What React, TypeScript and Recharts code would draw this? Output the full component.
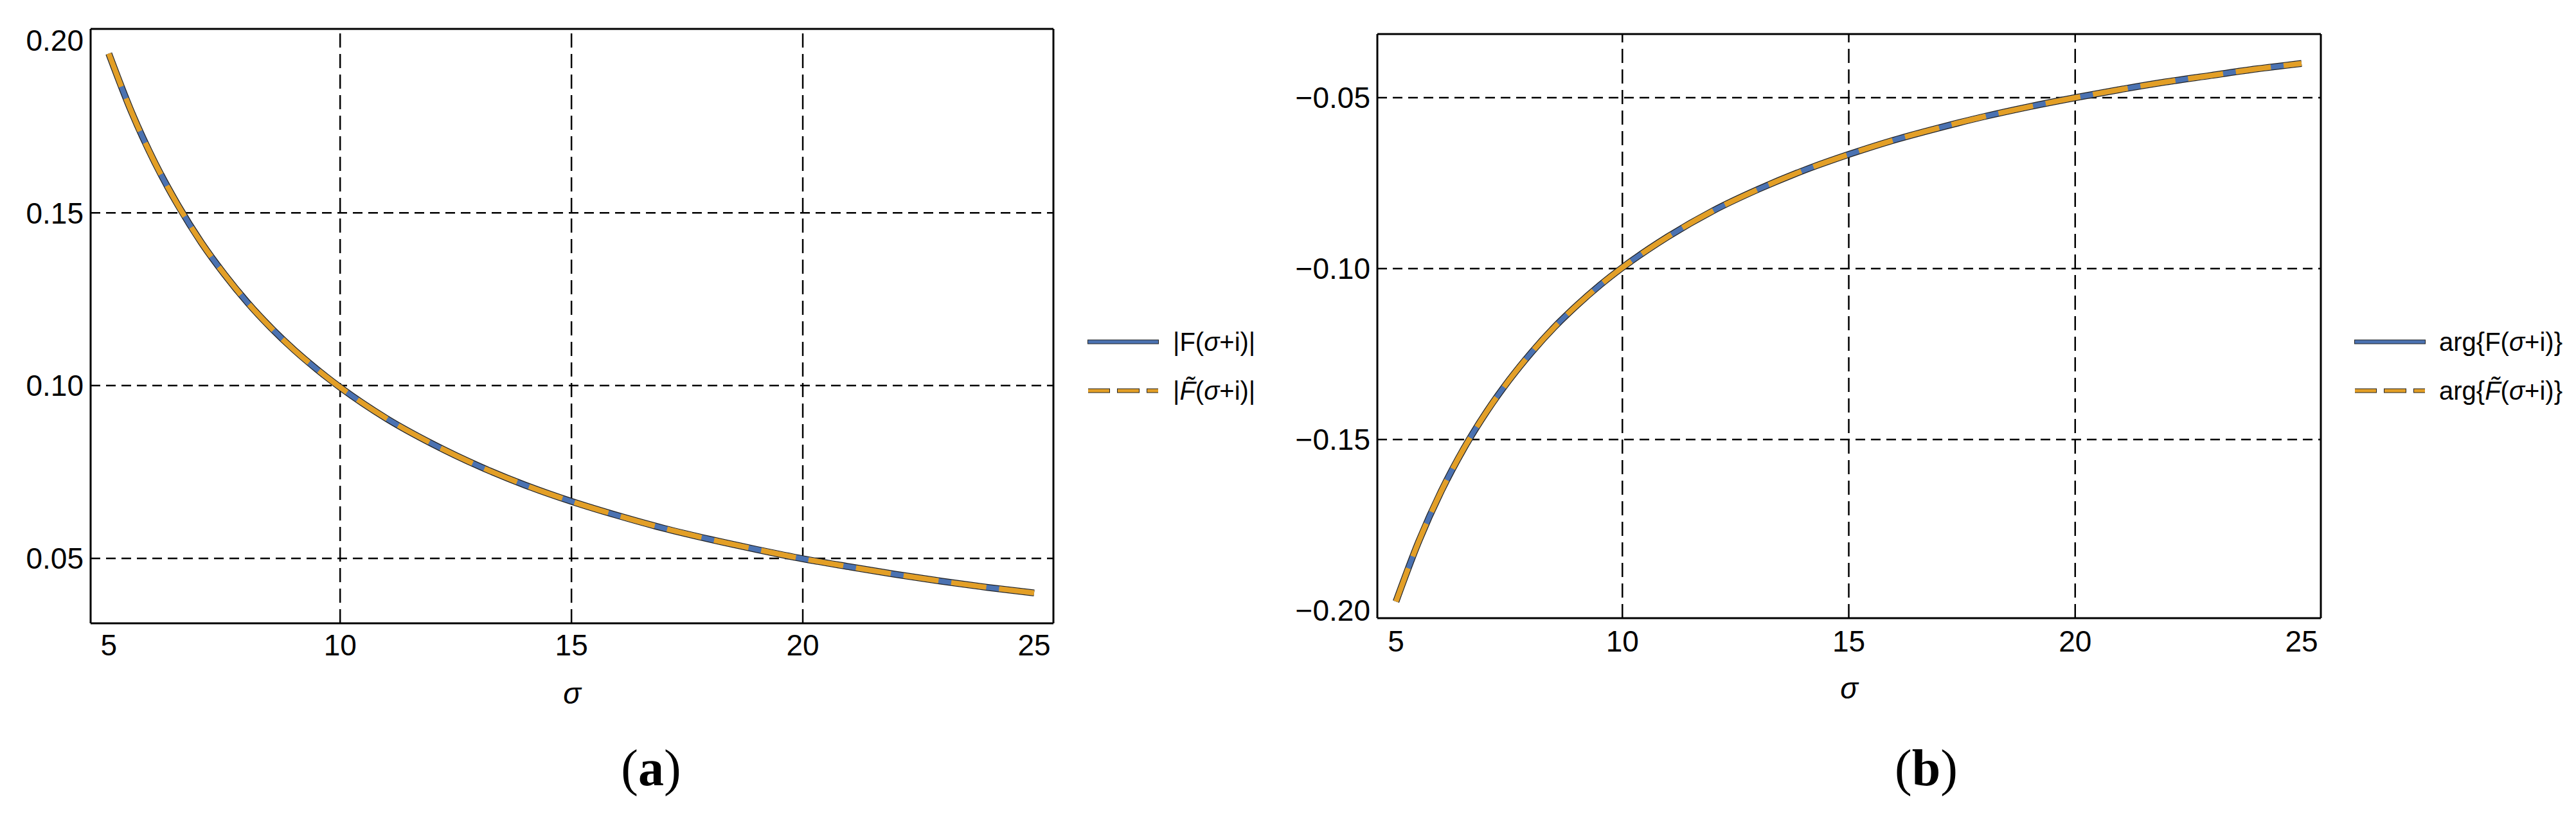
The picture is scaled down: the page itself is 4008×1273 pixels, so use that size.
import React from 'react';
import { LineChart, Line, XAxis, YAxis, ReferenceLine } from 'recharts';

// sigma samples (denser where the curves bend more)
const sigma = [5, 5.5, 6, 6.5, 7, 7.5, 8, 8.5, 9, 9.5, 10, 11, 12, 13, 14, 15, 16, 17, 18, 19, 20, 21, 22, 23, 24, 25];

// panel (a): |F(sigma+i)| and its approximation
const absF = [0.1961, 0.1789, 0.1644, 0.1521, 0.1414, 0.1322, 0.124, 0.1168, 0.1104, 0.1047, 0.0995, 0.0905, 0.0831, 0.0767, 0.0712, 0.0665, 0.0624, 0.0587, 0.0555, 0.0526, 0.0499, 0.0476, 0.0454, 0.0434, 0.0416, 0.04];
const absFTilde = [0.1961, 0.1789, 0.1644, 0.1521, 0.1414, 0.1322, 0.124, 0.1168, 0.1104, 0.1047, 0.0995, 0.0905, 0.0831, 0.0767, 0.0712, 0.0665, 0.0624, 0.0587, 0.0555, 0.0526, 0.0499, 0.0476, 0.0454, 0.0434, 0.0416, 0.04];

// panel (b): arg{F(sigma+i)} and its approximation
const argF = [-0.1974, -0.1799, -0.1651, -0.1526, -0.1419, -0.1326, -0.1244, -0.1171, -0.1107, -0.1049, -0.0997, -0.0907, -0.0831, -0.0768, -0.0713, -0.0666, -0.0624, -0.0588, -0.0555, -0.0526, -0.05, -0.0476, -0.0454, -0.0435, -0.0416, -0.04];
const argFTilde = [-0.1974, -0.1799, -0.1651, -0.1526, -0.1419, -0.1326, -0.1244, -0.1171, -0.1107, -0.1049, -0.0997, -0.0907, -0.0831, -0.0768, -0.0713, -0.0666, -0.0624, -0.0588, -0.0555, -0.0526, -0.05, -0.0476, -0.0454, -0.0435, -0.0416, -0.04];

// ticks and grid
const xMajor = [5, 10, 15, 20, 25];
const xMinor = [5, 6, 7, 8, 9, 10, 11, 12, 13, 14, 15, 16, 17, 18, 19, 20, 21, 22, 23, 24, 25];
const xGrid = [10, 15, 20];
const absMajor = [0.05, 0.1, 0.15, 0.2];
const absMinor = [0.04, 0.05, 0.06, 0.07, 0.08, 0.09, 0.1, 0.11, 0.12, 0.13, 0.14, 0.15, 0.16, 0.17, 0.18, 0.19, 0.2];
const absGrid = [0.05, 0.1, 0.15];
const argMajor = [-0.2, -0.15, -0.1, -0.05];
const argMinor = [-0.2, -0.19, -0.18, -0.17, -0.16, -0.15, -0.14, -0.13, -0.12, -0.11, -0.1, -0.09, -0.08, -0.07, -0.06, -0.05, -0.04];
const argGrid = [-0.15, -0.1, -0.05];

const data = sigma.map((s, i) => ({
  sigma: s,
  absF: absF[i],
  absFt: absFTilde[i],
  argF: argF[i],
  argFt: argFTilde[i],
}));

const SANS = 'Liberation Sans, Arial, Helvetica, sans-serif';
const BLUE = '#4b72b1';
const ORANGE = '#e39f26';
const EDGE = '#222';

const frame = { stroke: '#000', strokeWidth: 3 };
const tickLn = { stroke: '#000', strokeWidth: 2 };
const tickText = { fill: '#000', fontSize: 46, fontFamily: SANS };

const fmtAbs = (v: number) => v.toFixed(2);
const fmtArg = (v: number) => (v < 0 ? '\u2212' : '') + Math.abs(v).toFixed(2);

interface PanelProps {
  fKey: string;
  tKey: string;
  xDomain: [number, number];
  yDomain: [number, number];
  yMajor: number[];
  yMinor: number[];
  yGrid: number[];
  fmt: (v: number) => string;
  margin: { top: number; right: number; bottom: number; left: number };
  yAxisWidth: number;
  xAxisHeight: number;
  xTickMargin: number;
  labelOffset: number;
}

const Panel = ({ fKey, tKey, xDomain, yDomain, yMajor, yMinor, yGrid, fmt, margin, yAxisWidth, xAxisHeight, xTickMargin, labelOffset }: PanelProps) => {
  const xCommon = { type: 'number' as const, domain: xDomain, allowDataOverflow: true, interval: 0 as const };
  const yCommon = { type: 'number' as const, domain: yDomain, allowDataOverflow: true, interval: 0 as const };
  return (
    <LineChart width={2004} height={1273} data={data} margin={margin}>
      {/* labelled axes + frame */}
      <XAxis
        xAxisId="x"
        dataKey="sigma"
        {...xCommon}
        ticks={xMajor}
        height={xAxisHeight}
        tickLine={false}
        tickSize={0}
        tickMargin={xTickMargin}
        axisLine={frame}
        tick={tickText}
        label={{
          value: 'σ',
          position: 'insideBottom',
          offset: labelOffset,
          style: { fontStyle: 'italic', fontSize: 46, fontFamily: SANS, fill: '#000' },
        }}
      />
      <XAxis xAxisId="xbM" {...xCommon} ticks={xMajor} mirror tick={false} axisLine={false} tickSize={12} tickLine={tickLn} />
      <XAxis xAxisId="xbm" {...xCommon} ticks={xMinor} mirror tick={false} axisLine={false} tickSize={6} tickLine={tickLn} />
      <XAxis xAxisId="xtM" orientation="top" {...xCommon} ticks={xMajor} mirror tick={false} axisLine={frame} tickSize={12} tickLine={tickLn} />
      <XAxis xAxisId="xtm" orientation="top" {...xCommon} ticks={xMinor} mirror tick={false} axisLine={false} tickSize={6} tickLine={tickLn} />

      <YAxis
        yAxisId="y"
        {...yCommon}
        ticks={yMajor}
        width={yAxisWidth}
        tickLine={false}
        tickSize={0}
        tickMargin={11}
        axisLine={frame}
        tick={tickText}
        tickFormatter={fmt}
      />
      <YAxis yAxisId="ylM" {...yCommon} ticks={yMajor} mirror tick={false} axisLine={false} tickSize={12} tickLine={tickLn} />
      <YAxis yAxisId="ylm" {...yCommon} ticks={yMinor} mirror tick={false} axisLine={false} tickSize={6} tickLine={tickLn} />
      <YAxis yAxisId="yrM" orientation="right" {...yCommon} ticks={yMajor} mirror tick={false} axisLine={frame} tickSize={12} tickLine={tickLn} />
      <YAxis yAxisId="yrm" orientation="right" {...yCommon} ticks={yMinor} mirror tick={false} axisLine={false} tickSize={6} tickLine={tickLn} />

      {xGrid.map((v) => (
        <ReferenceLine key={`gx-${v}`} xAxisId="x" yAxisId="y" x={v} stroke="#000" strokeWidth={2.5} strokeDasharray="22 10" />
      ))}
      {yGrid.map((v) => (
        <ReferenceLine key={`gy-${v}`} xAxisId="x" yAxisId="y" y={v} stroke="#000" strokeWidth={2.5} strokeDasharray="15 9" />
      ))}

      {/* dark edge, blue solid, orange dashed on top */}
      <Line xAxisId="x" yAxisId="y" type="monotone" dataKey={fKey} stroke={EDGE} strokeWidth={10.5} dot={false} activeDot={false} isAnimationActive={false} />
      <Line xAxisId="x" yAxisId="y" type="monotone" dataKey={fKey} stroke={BLUE} strokeWidth={8} dot={false} activeDot={false} isAnimationActive={false} />
      <Line xAxisId="x" yAxisId="y" type="monotone" dataKey={tKey} stroke={ORANGE} strokeWidth={8} strokeDasharray="55 20" dot={false} activeDot={false} isAnimationActive={false} />
    </LineChart>
  );
};

const LegendSwatch = ({ x, y, dashed }: { x: number; y: number; dashed?: boolean }) =>
  dashed ? (
    <g>
      <line x1={x} x2={x + 109} y1={y} y2={y} stroke={EDGE} strokeWidth={7} strokeDasharray="35 11" strokeDashoffset={1} />
      <line x1={x} x2={x + 109} y1={y} y2={y} stroke={ORANGE} strokeWidth={5} strokeDasharray="33 13" />
    </g>
  ) : (
    <g>
      <line x1={x - 1} x2={x + 110} y1={y} y2={y} stroke={EDGE} strokeWidth={7} />
      <line x1={x} x2={x + 109} y1={y} y2={y} stroke={BLUE} strokeWidth={5} />
    </g>
  );

export default function App() {
  return (
    <div style={{ position: 'absolute', left: 0, top: 0, width: 4008, height: 1273, background: '#fff' }}>
      <div style={{ position: 'absolute', left: 0, top: 0 }}>
        <Panel
          fKey="absF"
          tKey="absFt"
          xDomain={[4.607, 25.417]}
          yDomain={[0.03122, 0.20322]}
          yMajor={absMajor}
          yMinor={absMinor}
          yGrid={absGrid}
          fmt={fmtAbs}
          margin={{ top: 45, right: 365, bottom: 0, left: 0 }}
          yAxisWidth={141}
          xAxisHeight={303}
          xTickMargin={17}
          labelOffset={178}
        />
      </div>
      <div style={{ position: 'absolute', left: 2004, top: 0 }}>
        <Panel
          fKey="argF"
          tKey="argFt"
          xDomain={[4.588, 25.426]}
          yDomain={[-0.20226, -0.03139]}
          yMajor={argMajor}
          yMinor={argMinor}
          yGrid={argGrid}
          fmt={fmtArg}
          margin={{ top: 53, right: 397, bottom: 0, left: 0 }}
          yAxisWidth={139}
          xAxisHeight={311}
          xTickMargin={19}
          labelOffset={186}
        />
      </div>

      <svg width={4008} height={1273} style={{ position: 'absolute', left: 0, top: 0, pointerEvents: 'none' }}>
        <g fontFamily={SANS} fontSize={40} fill="#000">
          <LegendSwatch x={1693} y={532} />
          <text x={1825} y={546}>
            |F(<tspan fontStyle="italic">σ</tspan>+i)|
          </text>
          <LegendSwatch x={1693} y={608} dashed />
          <text x={1825} y={622}>
            |<tspan fontStyle="italic">F̃</tspan>(<tspan fontStyle="italic">σ</tspan>+i)|
          </text>

          <LegendSwatch x={3664} y={532} />
          <text x={3795} y={546}>
            arg{'{'}F(<tspan fontStyle="italic">σ</tspan>+i){'}'}
          </text>
          <LegendSwatch x={3664} y={608} dashed />
          <text x={3795} y={622}>
            arg{'{'}<tspan fontStyle="italic">F̃</tspan>(<tspan fontStyle="italic">σ</tspan>+i){'}'}
          </text>
        </g>
        <g fontFamily="Liberation Serif, Times New Roman, serif" fontSize={80} fill="#000" textAnchor="middle">
          <text x={1013} y={1222}>
            (<tspan fontWeight="bold">a</tspan>)
          </text>
          <text x={2997} y={1222}>
            (<tspan fontWeight="bold">b</tspan>)
          </text>
        </g>
      </svg>
    </div>
  );
}
